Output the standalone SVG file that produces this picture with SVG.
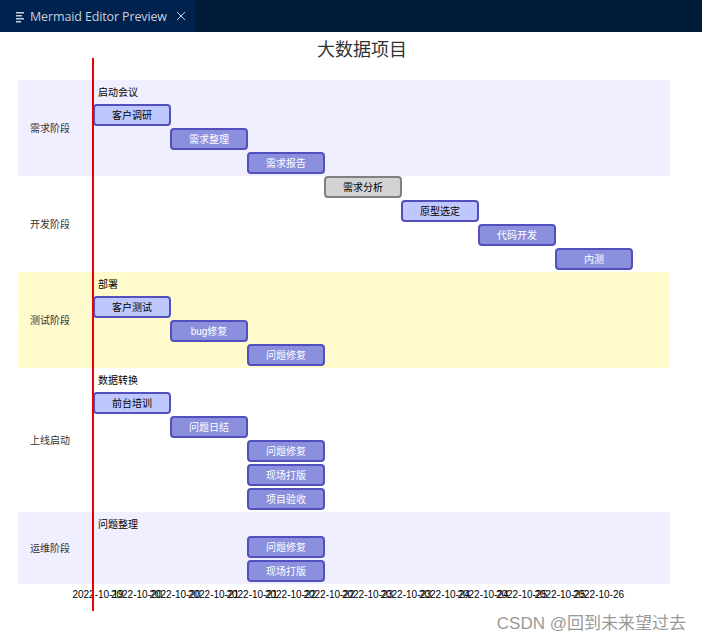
<svg xmlns="http://www.w3.org/2000/svg" width="702" height="641" viewBox="0 0 702 641">
<style>
text{font-family:"Liberation Sans","Noto Sans CJK SC",sans-serif}
.sec{font-size:10px;fill:#333;text-anchor:middle}
.lbl{font-size:10px;fill:#000}
.act{fill:#bfc7ff;stroke:#534fbc;stroke-width:2}
.dflt{fill:#8a90dd;stroke:#534fbc;stroke-width:2}
.done{fill:#d3d3d3;stroke:#808080;stroke-width:2}
.tb{font-size:10px;text-anchor:middle;fill:#000}
.tw{font-size:10px;text-anchor:middle;fill:#fff}
.ax{font-size:10px;fill:#000;text-anchor:middle}
</style>
<rect width="702" height="641" fill="#fff"/>
<rect width="702" height="32" fill="#001a3a"/>
<rect width="195" height="32" fill="#00224f"/>
<g fill="#c8cfdc"><rect x="16" y="12" width="8" height="1.5"/><rect x="16" y="15" width="6" height="1.5"/><rect x="16" y="18" width="8" height="1.5"/><rect x="16" y="21" width="5" height="1.5"/></g>
<text x="30" y="21" font-size="12.5" fill="#c8cfdc" textLength="137" style="font-family:'Open Sans','Noto Sans',sans-serif">Mermaid Editor Preview</text>
<path d="M177 12l8 8M185 12l-8 8" stroke="#c8cfdc" stroke-width="1"/>
<text x="362" y="56" font-size="18" fill="#333" text-anchor="middle">大数据项目</text>
<g id="bands">
<rect x="18" y="80" width="652" height="96" fill="#efefff"/>
<rect x="18" y="272" width="652" height="96" fill="#fffbcd"/>
<rect x="18" y="512" width="652" height="72" fill="#efefff"/>
</g>
<g id="sections">
<text class="sec" x="50" y="132">需求阶段</text>
<text class="sec" x="50" y="228">开发阶段</text>
<text class="sec" x="50" y="324">测试阶段</text>
<text class="sec" x="50" y="444">上线启动</text>
<text class="sec" x="50" y="552">运维阶段</text>
</g>
<g id="tasks">
<text class="lbl" x="98" y="96">启动会议</text>
<g id="t1"><rect class="act" x="94" y="105" width="76" height="20" rx="3"/><text class="tb" x="132" y="119">客户调研</text></g>
<g id="t2"><rect class="dflt" x="171" y="129" width="76" height="20" rx="3"/><text class="tw" x="209" y="143">需求整理</text></g>
<g id="t3"><rect class="dflt" x="248" y="153" width="76" height="20" rx="3"/><text class="tw" x="286" y="167">需求报告</text></g>
<g id="t4"><rect class="done" x="325" y="177" width="76" height="20" rx="3"/><text class="tb" x="363" y="191">需求分析</text></g>
<g id="t5"><rect class="act" x="402" y="201" width="76" height="20" rx="3"/><text class="tb" x="440" y="215">原型选定</text></g>
<g id="t6"><rect class="dflt" x="479" y="225" width="76" height="20" rx="3"/><text class="tw" x="517" y="239">代码开发</text></g>
<g id="t7"><rect class="dflt" x="556" y="249" width="76" height="20" rx="3"/><text class="tw" x="594" y="263">内测</text></g>
<text class="lbl" x="98" y="288">部署</text>
<g id="t8"><rect class="act" x="94" y="297" width="76" height="20" rx="3"/><text class="tb" x="132" y="311">客户测试</text></g>
<g id="t9"><rect class="dflt" x="171" y="321" width="76" height="20" rx="3"/><text class="tw" x="209" y="335">bug修复</text></g>
<g id="t10"><rect class="dflt" x="248" y="345" width="76" height="20" rx="3"/><text class="tw" x="286" y="359">问题修复</text></g>
<text class="lbl" x="98" y="384">数据转换</text>
<g id="t11"><rect class="act" x="94" y="393" width="76" height="20" rx="3"/><text class="tb" x="132" y="407">前台培训</text></g>
<g id="t12"><rect class="dflt" x="171" y="417" width="76" height="20" rx="3"/><text class="tw" x="209" y="431">问题日结</text></g>
<g id="t13"><rect class="dflt" x="248" y="441" width="76" height="20" rx="3"/><text class="tw" x="286" y="455">问题修复</text></g>
<g id="t14"><rect class="dflt" x="248" y="465" width="76" height="20" rx="3"/><text class="tw" x="286" y="479">现场打版</text></g>
<g id="t15"><rect class="dflt" x="248" y="489" width="76" height="20" rx="3"/><text class="tw" x="286" y="503">项目验收</text></g>
<text class="lbl" x="98" y="528">问题整理</text>
<g id="t16"><rect class="dflt" x="248" y="537" width="76" height="20" rx="3"/><text class="tw" x="286" y="551">问题修复</text></g>
<g id="t17"><rect class="dflt" x="248" y="561" width="76" height="20" rx="3"/><text class="tw" x="286" y="575">现场打版</text></g>
</g>
<g id="axis">
<text class="ax" x="98" y="598">2022-10-19</text>
<text class="ax" x="136.5" y="598">2022-10-20</text>
<text class="ax" x="175" y="598">2022-10-20</text>
<text class="ax" x="213.5" y="598">2022-10-21</text>
<text class="ax" x="252" y="598">2022-10-21</text>
<text class="ax" x="290.5" y="598">2022-10-22</text>
<text class="ax" x="329" y="598">2022-10-22</text>
<text class="ax" x="367.5" y="598">2022-10-23</text>
<text class="ax" x="406" y="598">2022-10-23</text>
<text class="ax" x="444.5" y="598">2022-10-24</text>
<text class="ax" x="483" y="598">2022-10-24</text>
<text class="ax" x="521.5" y="598">2022-10-25</text>
<text class="ax" x="560" y="598">2022-10-25</text>
<text class="ax" x="598.5" y="598">2022-10-26</text>
</g>
<g id="connectors"></g>
<line x1="93" y1="58" x2="93" y2="611" stroke="#e00" stroke-width="2"/>
<text x="686" y="629" font-size="17" fill="#999" text-anchor="end">CSDN @回到未来望过去</text>
</svg>
